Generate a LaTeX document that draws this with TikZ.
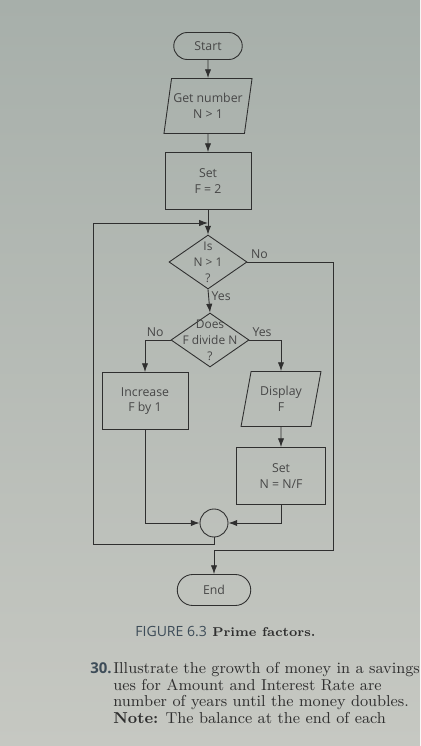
\documentclass[tikz,border=0pt]{standalone}
\usepackage{fontspec}
\newfontfamily\chartfont{Open Sans}
\usetikzlibrary{arrows.meta, positioning, shapes.geometric, shapes.misc}
\definecolor{paper}{HTML}{C6C8C2}
\definecolor{papertop}{HTML}{A7AFAA}
\definecolor{ink}{HTML}{2F2F2F}
\definecolor{inkgray}{HTML}{474747}
\definecolor{inkblue}{HTML}{3D4C58}
\newlength{\unitpx}
\setlength{\unitpx}{0.02cm}

\begin{document}
\begin{tikzpicture}[x=0.02cm, y=-0.02cm,
  flow/.style={draw=ink, line width=0.5pt, font=\chartfont\fontsize{7}{8.8}\selectfont,
    text=inkgray, align=center, inner sep=1pt},
  terminal/.style={flow, rounded rectangle, minimum width=72\unitpx, minimum height=27\unitpx},
  io/.style={flow, trapezium, trapezium left angle=75, trapezium right angle=105,
    trapezium stretches=true, minimum width=80\unitpx, minimum height=55\unitpx},
  process/.style={flow, rectangle, minimum width=86\unitpx, minimum height=57\unitpx},
  decision/.style={flow, diamond, minimum width=78\unitpx, minimum height=54\unitpx, inner sep=0pt},
  joint/.style={flow, circle, minimum size=28\unitpx, inner sep=0pt},
  inside/.style={font=\chartfont\fontsize{6.8}{9.2}\selectfont, text=inkgray, align=center},
  tag/.style={font=\chartfont\fontsize{7}{8}\selectfont, text=inkgray, inner sep=1.5pt},
  link/.style={draw=ink, line width=0.5pt, -{Latex[length=5pt, width=3.6pt]}},
  bodytext/.style={anchor=base west, font=\fontsize{9}{10}\selectfont, text=ink, inner sep=0pt}]
\shade[top color=papertop, bottom color=paper] (0,0) rectangle (420,746);
\useasboundingbox (0,0) rectangle (420,746);

% flowchart
\node[terminal] (start) at (208,46) {Start};
\node[io] (getN) at (208,106) {Get number\\N > 1};
\node[process] (setF) at (208,181) {Set\\F = 2};
\node[decision] (isN) at (208,262) {};
\node[inside] at (isN) {Is\\N > 1\\?};
\node[decision] (doesF) at (210,340) {};
\node[inside] at (doesF) {Does\\F divide N\\?};
\node[process] (incF) at (145,401) {Increase\\F by 1};
\node[io] (showF) at (281,399) {Display\\F};
\node[process, minimum width=89\unitpx] (setN) at (281,476) {Set\\N = N/F};
\node[joint] (merge) at (214,523) {};
\node[terminal, minimum width=77\unitpx, minimum height=31\unitpx] (finish) at (214,590) {End};
\coordinate (loopin) at (208,223);

\draw[link] (start) -- (getN);
\draw[link] (getN) -- (setF);
\draw[link] (setF) -- (isN);
\draw[link] (isN.east) -- node[tag, pos=0.14, above]{No} (333,262) -- (333,550) -| (finish.north);
\draw[link] (isN.south) -- node[tag, pos=0.3, right]{Yes} (doesF.north);
\draw[link] (doesF.west) -| node[tag, pos=0.3, above]{No} (incF.north);
\draw[link] (doesF.east) -| node[tag, pos=0.2, above]{Yes} (showF.north);
\draw[link] (showF) -- (setN);
\draw[link] (incF.south) |- (merge.west);
\draw[link] (setN.south) |- (merge.east);
\draw[link] (merge.south) -- ++(0,7) -| (93,223) -- (loopin);

% caption and page text
\node[anchor=base west, inner sep=0pt, font=\chartfont\fontsize{8}{9}\selectfont, text=inkblue] (figno) at (135,636) {FIGURE 6.3};
\node[anchor=base west, inner sep=0pt, font=\bfseries\fontsize{7.3}{9}\selectfont, text=ink] (figtitle) at (212,636) {Prime factors.};
\node[anchor=base west, inner sep=0pt, font=\chartfont\bfseries\fontsize{8.5}{10}\selectfont, text=inkblue] (itemno) at (90,673) {30.};
\node[bodytext] (lineA) at (113,673) {Illustrate the growth of money in a savings};
\node[bodytext] (lineB) at (113,690) {ues for Amount and Interest Rate are};
\node[bodytext] (lineC) at (113,706) {number of years until the money doubles.};
\node[bodytext] (lineD) at (113,723) {\textbf{Note:} The balance at the end of each};
\end{tikzpicture}
\end{document}
